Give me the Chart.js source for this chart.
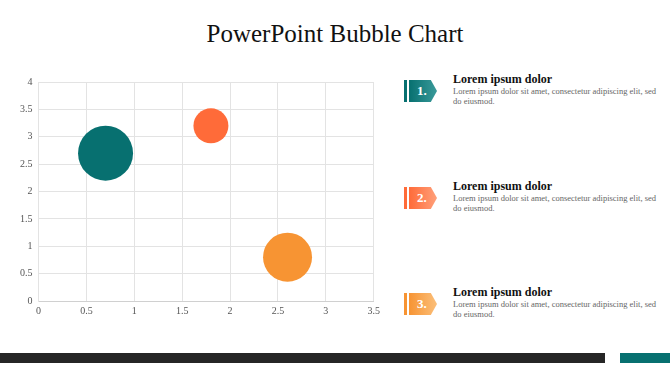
<!DOCTYPE html>
<html>
<head>
<meta charset="utf-8">
<script src="https://cdn.jsdelivr.net/npm/chart.js@4/dist/chart.umd.min.js"></script>
<style>
  html, body { margin: 0; padding: 0; background: #fff; }
  body { width: 670px; height: 376px; position: relative; overflow: hidden; font-family: "Liberation Serif", "DejaVu Serif", serif; }
  h1 { position: absolute; top: 20px; left: 0; width: 670px; margin: 0; text-align: center; font-weight: normal; font-size: 25px; color: #111; }
  #bubbleChart { position: absolute; left: 14px; top: 70px; }
  .item { position: absolute; left: 404px; width: 260px; }
  .bar { position: absolute; left: 0; top: 0; width: 3px; height: 22px; }
  .tag { position: absolute; left: 5px; top: 0; width: 28px; height: 22px; clip-path: polygon(0 0, 78% 0, 100% 50%, 78% 100%, 0 100%); color: #fff; font-weight: bold; font-size: 13px; line-height: 22px; text-indent: 8px; }
  .ttl { position: absolute; left: 49px; top: -8px; font-weight: bold; font-size: 12px; color: #111; white-space: nowrap; }
  .txt { position: absolute; left: 49px; top: 6px; width: 212px; font-size: 8.5px; line-height: 10px; color: #666; }
  .foot1 { position: absolute; left: 0; top: 353px; width: 605px; height: 10px; background: #262626; }
  .foot2 { position: absolute; left: 620px; top: 353px; width: 50px; height: 10px; background: #077070; }
</style>
</head>
<body>
<h1>PowerPoint Bubble Chart</h1>
<canvas id="bubbleChart" width="370" height="251"></canvas>
<div id="items"></div>
<div class="foot1"></div>
<div class="foot2"></div>
<script>
// bubble values
const xValues = [0.7, 1.8, 2.6];
const yValues = [2.7, 3.2, 0.8];
const sizes = [27.5, 17.5, 24.5];
const bubbleColors = ['#077070', '#FF6B39', '#F79433'];

const itemTitles = ['Lorem ipsum dolor', 'Lorem ipsum dolor', 'Lorem ipsum dolor'];
const itemTexts = [
    'Lorem ipsum dolor sit amet, consectetur adipiscing elit, sed do eiusmod.',
    'Lorem ipsum dolor sit amet, consectetur adipiscing elit, sed do eiusmod.',
    'Lorem ipsum dolor sit amet, consectetur adipiscing elit, sed do eiusmod.'
];
const itemTops = [80, 187, 293];
const tagGradients = [
    ['#077070', '#3a9a9a'],
    ['#FF6B39', '#ffa07a'],
    ['#F79433', '#fbbf7a']
];

// side list
const itemsEl = document.getElementById('items');
itemTitles.forEach((t, i) => {
    const div = document.createElement('div');
    div.className = 'item';
    div.style.top = itemTops[i] + 'px';
    const g = tagGradients[i];
    div.innerHTML =
        '<div class="bar" style="background:' + g[0] + '"></div>' +
        '<div class="tag" style="background:linear-gradient(90deg,' + g[0] + ',' + g[1] + ')">' + (i + 1) + '.</div>' +
        '<div class="ttl">' + t + '</div>' +
        '<div class="txt">' + itemTexts[i] + '</div>';
    itemsEl.appendChild(div);
});

const tickFont = { family: 'Liberation Serif', size: 10 };
const plainNum = v => String(v);

new Chart(document.getElementById('bubbleChart'), {
    type: 'bubble',
    data: {
        datasets: [{
            data: xValues.map((x, i) => ({ x: x, y: yValues[i], r: sizes[i] })),
            backgroundColor: bubbleColors,
            borderColor: bubbleColors,
            borderWidth: 0,
            hoverRadius: 0
        }]
    },
    options: {
        responsive: false,
        animation: false,
        layout: { autoPadding: false, padding: { top: 2, right: 2 } },
        scales: {
            x: {
                type: 'linear',
                min: 0, max: 3.5,
                ticks: { stepSize: 0.5, color: '#555', font: tickFont, padding: 4, callback: plainNum },
                grid: { color: '#e3e3e3', drawTicks: false },
                border: { color: '#d0d0d0' }
            },
            y: {
                min: 0, max: 4,
                ticks: { stepSize: 0.5, color: '#555', font: tickFont, padding: 6, callback: plainNum },
                grid: { color: '#e3e3e3', drawTicks: false },
                border: { color: '#e3e3e3' }
            }
        },
        plugins: {
            legend: { display: false },
            tooltip: { enabled: false }
        }
    }
});
</script>
</body>
</html>
